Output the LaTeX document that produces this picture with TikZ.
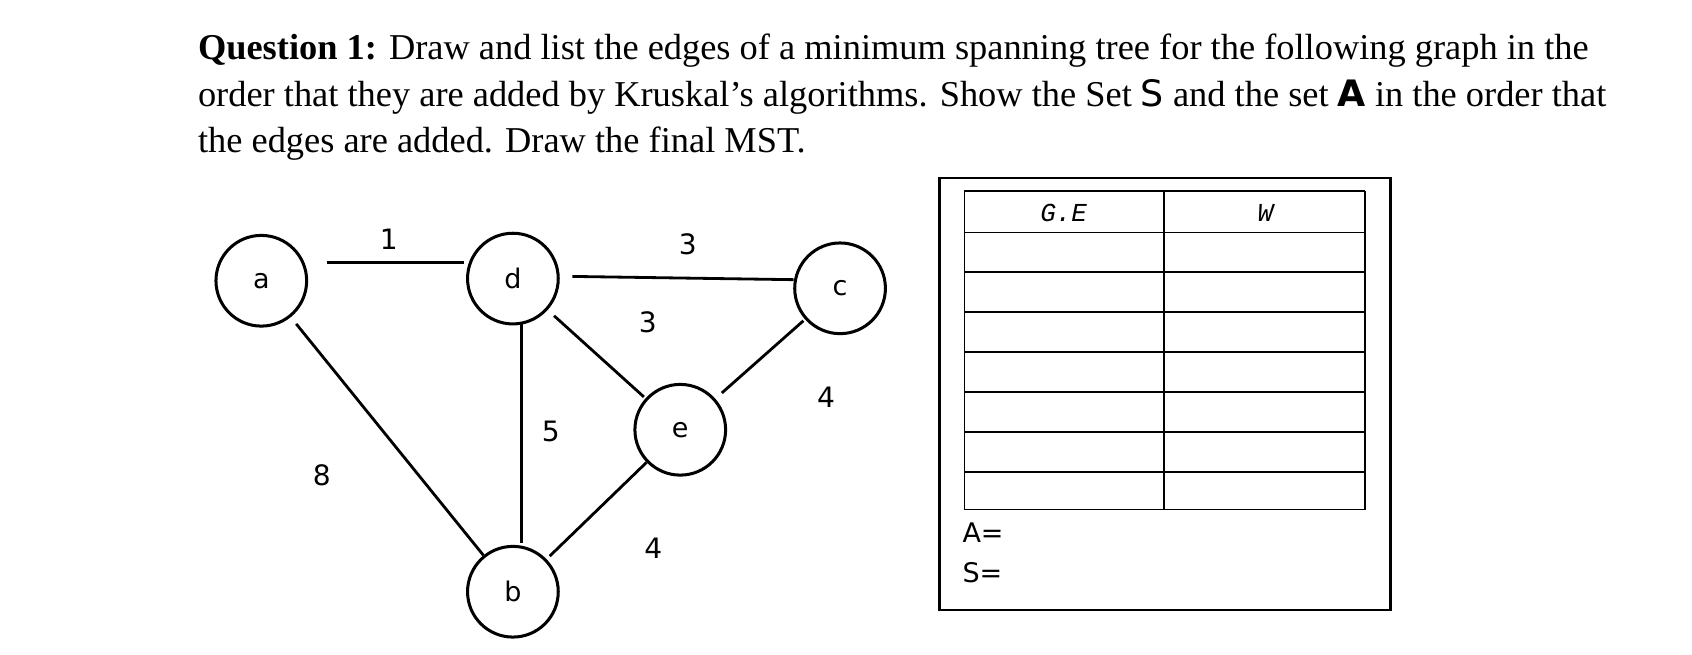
\documentclass[tikz,border=0pt]{standalone}
\usepackage{fontspec}
\setmainfont{Liberation Serif}
\newfontfamily\lbl{DejaVu Sans}
\newfontfamily\mono{Liberation Mono}
\begin{document}
\begin{tikzpicture}[x=0.5pt,y=-0.5pt,
  vtx/.style={circle,draw,line width=1.4pt,minimum size=42pt,inner sep=0pt,font=\lbl\fontsize{12.5}{12.5}\selectfont},
  edge/.style={line width=1.3pt},
  wt/.style={font=\lbl\fontsize{13}{13}\selectfont},
  cell/.style={line width=0.6pt}]
\useasboundingbox (0,0) rectangle (1567,606);
\node[anchor=west,align=left,font=\fontsize{16.85}{21.5}\selectfont,inner sep=0pt] (title) at (183,90) {\textbf{Question 1:} Draw and list the edges of a minimum spanning tree for the following graph in the\\
order that they are added by Kruskal’s algorithms. Show the Set {\lbl S} and the set {\lbl\bfseries A} in the order that\\
the edges are added. Draw the final MST.};
\node[vtx] (a) at (242,260) {a};
\node[vtx] (d) at (475,258) {d};
\node[vtx] (c) at (778,267) {c};
\node[vtx] (e) at (630,398) {e};
\node[vtx] (b) at (475,548) {b};
\coordinate (a1) at (303,243); \coordinate (d1) at (430,243);
\draw[edge] (a1) -- (d1);
\coordinate (dc1) at (530,256); \coordinate (dc2) at (735,259);
\draw[edge] (dc1) -- (dc2);
\draw[edge,shorten <=4pt,shorten >=1pt] (d) -- (e);
\draw[edge,shorten <=4pt,shorten >=1pt] (e) -- (c);
\coordinate (db1) at (483,300); \coordinate (db2) at (483,503);
\draw[edge] (db1) -- (db2);
\draw[edge,shorten <=4pt] (a) -- (b);
\draw[edge,shorten <=0pt,shorten >=2pt] (e) -- (b);
\node[wt] (w1) at (360,222) {1};
\node[wt] (w2) at (637,226) {3};
\node[wt] (w3) at (600,298) {3};
\node[wt] (w4) at (765,368) {4};
\node[wt] (w5) at (510,400) {5};
\node[wt] (w6) at (298,440) {8};
\node[wt] (w7) at (605,508) {4};
\draw[line width=1.2pt] (870,165) rectangle (1288,565);
\foreach \y in {177,215,252,289,326,363,400,437,472} \draw[cell] (893,\y) -- (1264,\y);
\draw[cell] (893,177) -- (893,472) (1078,177) -- (1078,472) (1264,177) -- (1264,472);
\node[font=\mono\itshape\fontsize{12}{12}\selectfont] (h1) at (985,197) {G.E};
\node[font=\mono\itshape\fontsize{12}{12}\selectfont] (h2) at (1172,197) {W};
\node[anchor=west,inner sep=0pt,font=\lbl\fontsize{12.5}{12.5}\selectfont] (A) at (891,493) {A=};
\node[anchor=west,inner sep=0pt,font=\lbl\fontsize{12.5}{12.5}\selectfont] (S) at (891,530) {S=};
\end{tikzpicture}
\end{document}
